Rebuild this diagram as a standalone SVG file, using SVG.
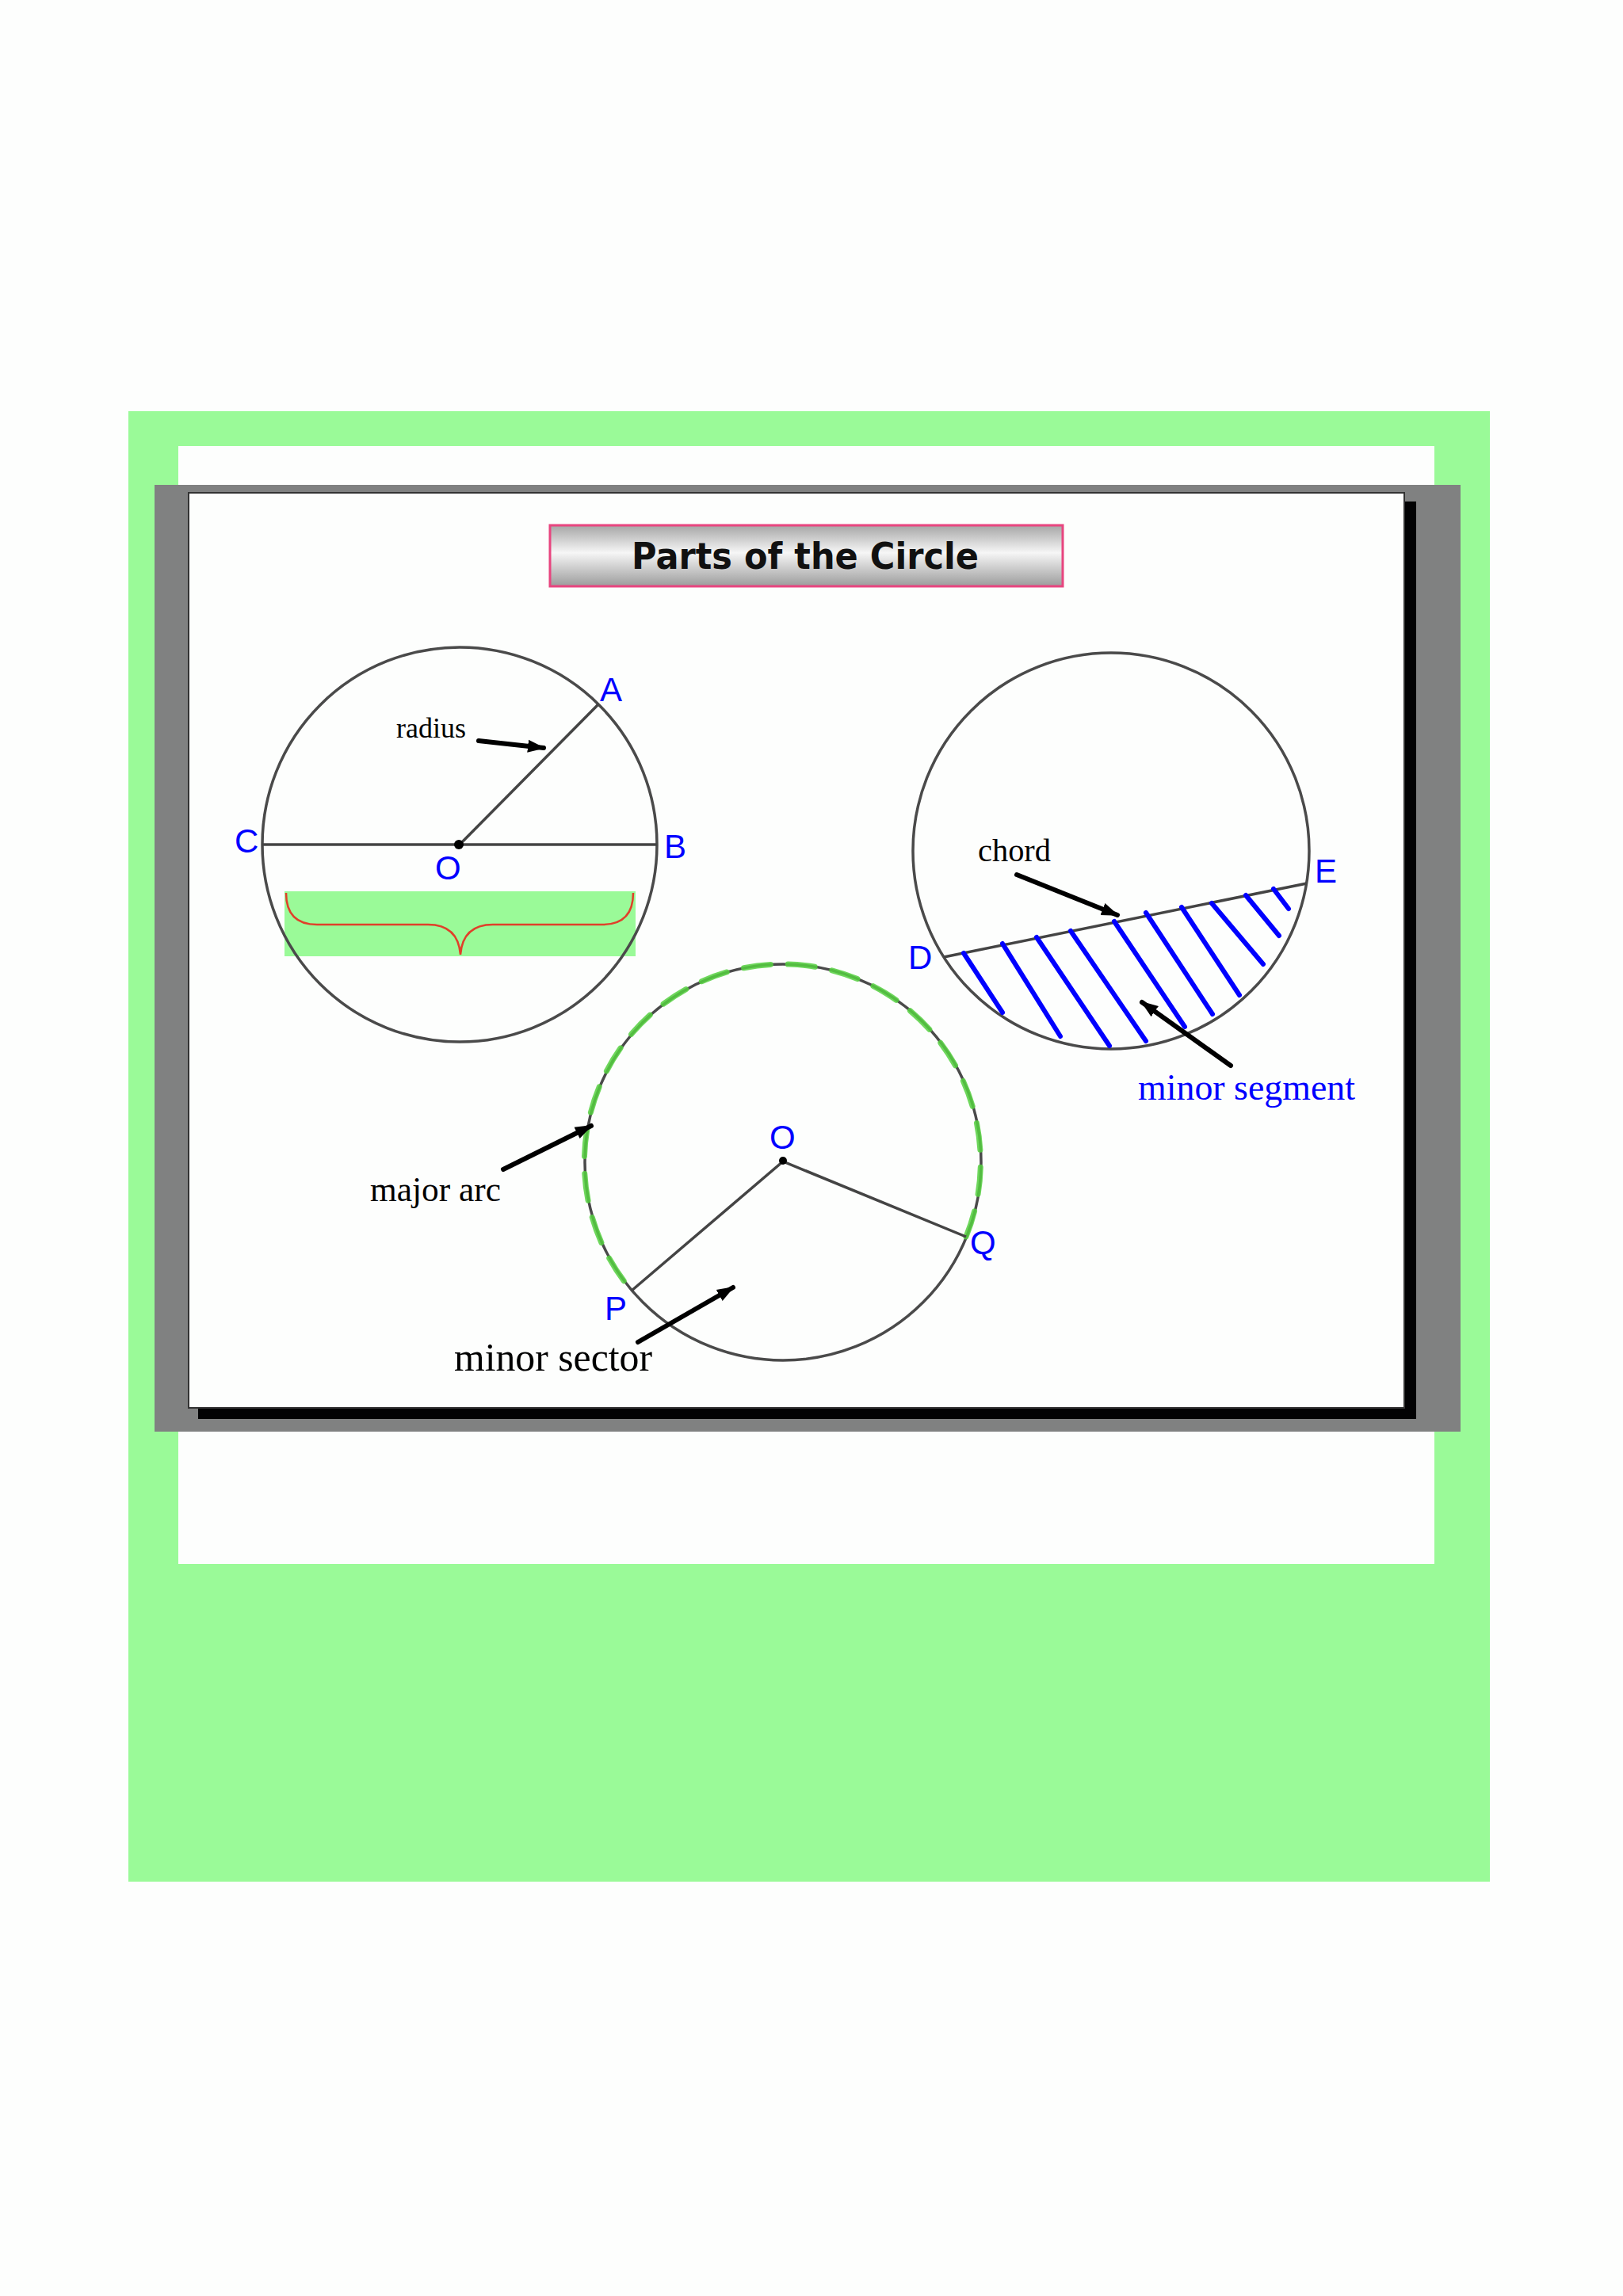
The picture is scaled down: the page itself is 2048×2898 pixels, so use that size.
<svg xmlns="http://www.w3.org/2000/svg" width="2048" height="2898" viewBox="0 0 2048 2898">
<style>
.circ{fill:none;stroke:#4a4a4a;stroke-width:3.5}
.line{stroke:#444;stroke-width:3.5;fill:none}
.lbl{font-family:"Liberation Sans",Arial,sans-serif;font-size:42px;fill:#0000ff}
.txt{font-family:"Liberation Serif","Times New Roman",serif;fill:#000}
.blue{fill:#0000ff}
.hatch{stroke:#0000ff;stroke-width:6;stroke-linecap:round}
.arr{stroke:#000;stroke-width:6;stroke-linecap:round;fill:none;marker-end:url(#ah)}
</style>
<defs>
<linearGradient id="tg" x1="0" y1="0" x2="0" y2="1">
<stop offset="0" stop-color="#a6a6a6"/>
<stop offset="0.45" stop-color="#f6f6f6"/>
<stop offset="1" stop-color="#9c9c9c"/>
</linearGradient>
<marker id="ah" markerUnits="userSpaceOnUse" markerWidth="24" markerHeight="20" refX="20" refY="10" orient="auto">
<path d="M0,2 L22,10 L0,18 Z" fill="#000"/>
</marker>
</defs>
<rect width="2048" height="2898" fill="#fdfefd"/>
<g id="frame">
<rect x="162" y="519" width="1718" height="1856" fill="#9afa98"/>
<rect x="225" y="563" width="1585" height="1411" fill="#fdfefd"/>
<rect x="195" y="612" width="1648" height="1195" fill="#808181"/>
<rect x="250" y="633" width="1537" height="1158" fill="#020203"/>
<rect x="238" y="622" width="1534" height="1155" fill="#fdfefd" stroke="#333" stroke-width="2"/>
</g>
<g id="title">
<rect x="694" y="663" width="647" height="77" fill="url(#tg)" stroke="#e8457f" stroke-width="3"/>
<text x="1016" y="718" text-anchor="middle" font-family="DejaVu Sans, sans-serif" font-weight="bold" font-size="46" textLength="438" lengthAdjust="spacingAndGlyphs" fill="#111">Parts of the Circle</text>
</g>
<g id="circle-radius">
<rect x="359" y="1125" width="443" height="82" fill="#9afa98"/>
<circle class="circ" cx="580" cy="1066" r="249"/>
<line class="line" x1="331" y1="1066" x2="829" y2="1066"/>
<line class="line" x1="580" y1="1066" x2="755" y2="889"/>
<circle cx="579" cy="1066" r="6" fill="#000"/>
<path d="M361,1127 Q361,1167 400,1167 L540,1167 Q578,1167 581,1205 Q584,1167 622,1167 L760,1167 Q799,1167 799,1127" fill="none" stroke="#e0402a" stroke-width="2.5"/>
<text class="lbl" x="757" y="885">A</text>
<text class="lbl" x="296" y="1076">C</text>
<text class="lbl" x="838" y="1083">B</text>
<text class="lbl" x="549" y="1110">O</text>
<text class="txt" x="500" y="931" font-size="35" textLength="88" lengthAdjust="spacingAndGlyphs">radius</text>
</g>
<g id="circle-segment">
<circle class="circ" cx="1402" cy="1074" r="250"/>
<line class="line" x1="1191" y1="1208" x2="1649" y2="1115"/>
<line class="hatch" x1="1216" y1="1203" x2="1265" y2="1278"/>
<line class="hatch" x1="1265" y1="1191" x2="1338" y2="1308"/>
<line class="hatch" x1="1308" y1="1183" x2="1400" y2="1320"/>
<line class="hatch" x1="1351" y1="1175" x2="1446" y2="1314"/>
<line class="hatch" x1="1406" y1="1163" x2="1495" y2="1296"/>
<line class="hatch" x1="1446" y1="1152" x2="1530" y2="1280"/>
<line class="hatch" x1="1491" y1="1145" x2="1564" y2="1256"/>
<line class="hatch" x1="1529" y1="1140" x2="1594" y2="1217"/>
<line class="hatch" x1="1572" y1="1130" x2="1614" y2="1181"/>
<line class="hatch" x1="1607" y1="1122" x2="1626" y2="1147"/>
<text class="lbl" x="1146" y="1223">D</text>
<text class="lbl" x="1659" y="1114">E</text>
<text class="txt" x="1234" y="1087" font-size="40" textLength="92" lengthAdjust="spacingAndGlyphs">chord</text>
<text class="txt blue" x="1436" y="1388" font-size="46" textLength="274" lengthAdjust="spacingAndGlyphs">minor segment</text>
</g>
<g id="circle-sector">
<circle class="circ" cx="988" cy="1467" r="250"/>
<path d="M1219,1561 A250,250 0 1 0 797,1629" fill="none" stroke="#55d040" stroke-opacity="0.85" stroke-width="7" stroke-dasharray="34 22" stroke-linecap="round"/>
<polyline class="line" points="797,1629 988,1466 1219,1561"/>
<circle cx="988" cy="1465" r="5" fill="#000"/>
<text class="lbl" x="971" y="1450">O</text>
<text class="lbl" x="763" y="1666">P</text>
<text class="lbl" x="1224" y="1583">Q</text>
<text class="txt" x="467" y="1516" font-size="45" textLength="165" lengthAdjust="spacingAndGlyphs">major arc</text>
<text class="txt" x="573" y="1730" font-size="50" textLength="250" lengthAdjust="spacingAndGlyphs">minor sector</text>
</g>
<g id="connectors">
<line class="arr" x1="604" y1="935" x2="686" y2="944"/>
<line class="arr" x1="1283" y1="1104" x2="1410" y2="1155"/>
<line class="arr" x1="1553" y1="1345" x2="1441" y2="1265"/>
<line class="arr" x1="635" y1="1476" x2="746" y2="1421"/>
<line class="arr" x1="805" y1="1694" x2="925" y2="1625"/>
</g>
</svg>
